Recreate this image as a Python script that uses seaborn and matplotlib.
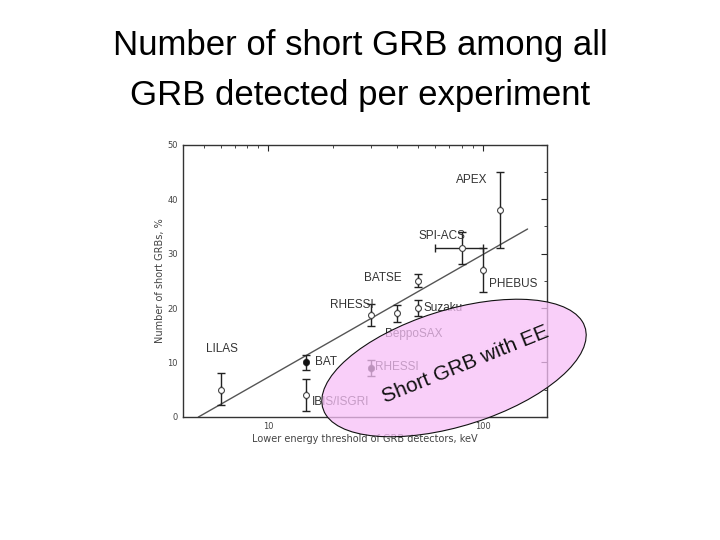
import matplotlib
matplotlib.use("Agg")
import matplotlib.pyplot as plt
import seaborn as sns
import numpy as np
import pandas as pd
from matplotlib.patches import Ellipse
from matplotlib.ticker import FixedLocator, NullFormatter, LogLocator

names = ["LILAS", "BAT", "IBIS/ISGRI", "RHESSI", "BeppoSAX", "Suzaku", "BATSE", "RHESSI*", "SPI-ACS", "PHEBUS", "APEX"]
energy = [6, 15, 15, 30, 40, 50, 50, 30, 80, 100, 120]
percent = [5, 10, 4, 18.7, 19, 20, 25, 9, 31, 27, 38]
err_lo = [2.8, 1.3, 3, 2, 1.5, 1.5, 1.2, 1.5, 3, 4, 7]
err_hi = [3, 1.3, 3, 2, 1.5, 1.5, 1.2, 1.5, 3, 4, 7]
xerr_lo = [0, 0, 0, 0, 0, 0, 0, 0, 20, 0, 0]
xerr_hi = [0, 0, 0, 0, 0, 0, 0, 0, 20, 0, 0]
filled = [False, True, False, False, False, False, False, True, False, False, False]
fit_a, fit_b = -15.2, 22.5
fit_x = [4.72, 162]

df = pd.DataFrame(dict(name=names, E=energy, P=percent, filled=filled))

sns.set_style("white")
fig = plt.figure(figsize=(7.2, 5.4), dpi=100)
ax = fig.add_axes([0.254, 0.228, 0.506, 0.504])
ax.set_xscale("log")

ax.errorbar(energy, percent, yerr=[err_lo, err_hi], xerr=[xerr_lo, xerr_hi],
            fmt="none", ecolor="#222", elinewidth=1, capsize=3, zorder=2)
sns.scatterplot(data=df[~df.filled], x="E", y="P", ax=ax, marker="o", s=18,
                facecolor="white", edgecolor="#444", linewidth=0.8, zorder=3)
sns.scatterplot(data=df[df.filled], x="E", y="P", ax=ax, marker="o", s=22,
                color="#111", edgecolor="#111", zorder=3)
fx = np.geomspace(fit_x[0], fit_x[1], 50)
ax.plot(fx, fit_a + fit_b * np.log10(fx), color="#555", lw=1, zorder=1)

ax.set_xlim(4, 200)
ax.set_ylim(0, 50)
ax.set_xticks([10, 100])
ax.set_xticklabels(["10", "100"])
ax.xaxis.set_minor_locator(LogLocator(subs=np.arange(2, 10)))
ax.xaxis.set_minor_formatter(NullFormatter())
ax.set_yticks(range(0, 51, 10))
ax.yaxis.set_minor_locator(FixedLocator(range(5, 50, 10)))
ax.tick_params(which="both", direction="in", top=True, right=True, labelsize=6, labelcolor="#444")
ax.tick_params(which="major", length=4)
ax.tick_params(which="minor", length=2)
for s in ax.spines.values():
    s.set_color("#333"); s.set_linewidth(1)
ax.set_xlabel("Lower energy threshold of GRB detectors, keV", fontsize=7, color="#444", labelpad=2)
ax.set_ylabel("Number of short GRBs, %", fontsize=7, color="#444", labelpad=2)

labels = {"LILAS": (5.1, 12.5), "BAT": (16.5, 10), "IBIS/ISGRI": (16.0, 2.8), "RHESSI": (19.5, 20.5),
          "BeppoSAX": (35, 15.2), "Suzaku": (53, 20), "BATSE": (28, 25.6), "RHESSI*": (31.5, 9.2),
          "SPI-ACS": (50, 33.2), "PHEBUS": (107, 24.5), "APEX": (75, 43.5)}
for n, (x, y) in labels.items():
    ax.text(x, y, n.rstrip("*"), fontsize=8.5, color="#333", va="center", ha="left",
            family="Liberation Sans", zorder=4)

center = (454 / 720, 1 - 368 / 540)
ell = Ellipse(center, 285 / 720, 112 / 540, angle=26,
              transform=fig.transFigure, facecolor="#f7bff7", alpha=0.75,
              edgecolor="none", zorder=5)
ell2 = Ellipse(center, 285 / 720, 112 / 540, angle=26,
               transform=fig.transFigure, facecolor="none", edgecolor="#111", lw=0.8, zorder=6)
fig.patches.extend([ell, ell2])
fig.text(465 / 720, 1 - 365 / 540, "Short GRB with EE", rotation=22, fontsize=15,
         ha="center", va="center", color="#111", family="Liberation Sans", zorder=7)

fig.text(0.5, 1 - 45 / 540, "Number of short GRB among all", fontsize=25, ha="center", va="center",
         family="Liberation Sans", color="black")
fig.text(0.5, 1 - 95 / 540, "GRB detected per experiment", fontsize=25, ha="center", va="center",
         family="Liberation Sans", color="black")
fig.savefig("out.png", dpi=100)
